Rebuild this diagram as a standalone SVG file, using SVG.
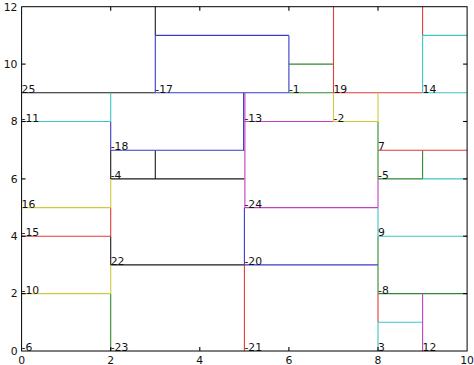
<svg xmlns="http://www.w3.org/2000/svg" width="474" height="365" viewBox="0 0 474 365">
<style>
line{stroke-width:1.1;fill:none}
.k{stroke:#1a1a1a}.b{stroke:#3a3ac8}.g{stroke:#2e8a2e}.r{stroke:#e03a3a}.c{stroke:#3ec4c4}.m{stroke:#c23ec2}.y{stroke:#cccc3a}
text{font-family:"DejaVu Sans",sans-serif;font-size:10.8px;fill:#111}
.tx{text-anchor:middle}.ty{text-anchor:end}
</style>
<rect width="474" height="365" fill="#fff"/>
<g id="cells">
<line class="k" x1="21.6" y1="92.8" x2="155.3" y2="92.8"/>
<line class="k" x1="155.3" y1="35.4" x2="155.3" y2="6.7"/>
<line class="k" x1="110.7" y1="178.9" x2="244.4" y2="178.9"/>
<line class="k" x1="155.3" y1="178.9" x2="155.3" y2="150.2"/>
<line class="k" x1="110.7" y1="264.9" x2="244.4" y2="264.9"/>
<line class="k" x1="110.7" y1="178.9" x2="110.7" y2="150.2"/>
<line class="k" x1="110.7" y1="264.9" x2="110.7" y2="236.2"/>

<line class="b" x1="155.3" y1="35.4" x2="288.9" y2="35.4"/>
<line class="b" x1="155.3" y1="35.4" x2="155.3" y2="92.8"/>
<line class="b" x1="288.9" y1="35.4" x2="288.9" y2="92.8"/>
<line class="b" x1="155.3" y1="92.8" x2="288.9" y2="92.8"/>
<line class="b" x1="110.7" y1="150.2" x2="110.7" y2="121.5"/>
<line class="b" x1="110.7" y1="150.2" x2="244.4" y2="150.2"/>
<line class="b" x1="243.6" y1="150.2" x2="243.6" y2="92.8"/>
<line class="b" x1="244.4" y1="264.9" x2="378" y2="264.9"/>
<line class="b" x1="244.4" y1="264.9" x2="244.4" y2="207.6"/>

<line class="g" x1="288.9" y1="64.1" x2="333.5" y2="64.1"/>
<line class="g" x1="288.9" y1="92.8" x2="333.5" y2="92.8"/>
<line class="g" x1="110.7" y1="351" x2="110.7" y2="293.6"/>
<line class="g" x1="378" y1="178.9" x2="378" y2="121.5"/>
<line class="g" x1="378" y1="178.9" x2="422.6" y2="178.9"/>
<line class="g" x1="422.6" y1="178.9" x2="422.6" y2="150.2"/>
<line class="g" x1="378" y1="293.6" x2="467.1" y2="293.6"/>
<line class="g" x1="378" y1="293.6" x2="378" y2="236.2"/>

<line class="r" x1="333.5" y1="6.7" x2="333.5" y2="92.8"/>
<line class="r" x1="333.5" y1="92.8" x2="422.6" y2="92.8"/>
<line class="r" x1="422.6" y1="6.7" x2="422.6" y2="35.4"/>
<line class="r" x1="378" y1="150.2" x2="467.1" y2="150.2"/>
<line class="r" x1="110.7" y1="236.2" x2="110.7" y2="207.6"/>
<line class="r" x1="21.6" y1="236.2" x2="110.7" y2="236.2"/>
<line class="r" x1="244.4" y1="351" x2="244.4" y2="264.9"/>
<line class="r" x1="378" y1="322.3" x2="378" y2="293.6"/>

<line class="c" x1="21.6" y1="121.5" x2="110.7" y2="121.5"/>
<line class="c" x1="110.7" y1="121.5" x2="110.7" y2="92.8"/>
<line class="c" x1="422.6" y1="35.4" x2="422.6" y2="92.8"/>
<line class="c" x1="422.6" y1="35.4" x2="467.1" y2="35.4"/>
<line class="c" x1="422.6" y1="92.8" x2="467.1" y2="92.8"/>
<line class="c" x1="422.6" y1="178.9" x2="467.1" y2="178.9"/>
<line class="c" x1="378" y1="236.2" x2="467.1" y2="236.2"/>
<line class="c" x1="378" y1="236.2" x2="378" y2="207.6"/>
<line class="c" x1="378" y1="322.3" x2="422.6" y2="322.3"/>
<line class="c" x1="378" y1="351" x2="378" y2="322.3"/>

<line class="m" x1="244.4" y1="121.5" x2="333.5" y2="121.5"/>
<line class="m" x1="244.9" y1="207.6" x2="244.9" y2="92.8"/>
<line class="m" x1="244.4" y1="207.6" x2="378" y2="207.6"/>
<line class="m" x1="378" y1="207.6" x2="378" y2="178.9"/>
<line class="m" x1="422.6" y1="351" x2="422.6" y2="293.6"/>

<line class="y" x1="333.5" y1="121.5" x2="333.5" y2="92.8"/>
<line class="y" x1="333.5" y1="121.5" x2="378" y2="121.5"/>
<line class="y" x1="378" y1="121.5" x2="378" y2="92.8"/>
<line class="y" x1="21.6" y1="207.6" x2="110.7" y2="207.6"/>
<line class="y" x1="110.7" y1="207.6" x2="110.7" y2="178.9"/>
<line class="y" x1="21.6" y1="293.6" x2="110.7" y2="293.6"/>
<line class="y" x1="110.7" y1="293.6" x2="110.7" y2="264.9"/>
</g>
<g id="labels">
<text x="21.6" y="92.8">25</text>
<text x="155.3" y="92.8">-17</text>
<text x="288.9" y="92.8">-1</text>
<text x="333.5" y="92.8">19</text>
<text x="422.6" y="92.8">14</text>
<text x="21.6" y="121.5">-11</text>
<text x="244.4" y="121.5">-13</text>
<text x="333.5" y="121.5">-2</text>
<text x="110.7" y="150.2">-18</text>
<text x="378" y="150.2">7</text>
<text x="110.7" y="178.9">-4</text>
<text x="378" y="178.9">-5</text>
<text x="21.6" y="207.6">16</text>
<text x="244.4" y="207.6">-24</text>
<text x="21.6" y="236.2">-15</text>
<text x="378" y="236.2">9</text>
<text x="110.7" y="264.9">22</text>
<text x="244.4" y="264.9">-20</text>
<text x="21.6" y="293.6">-10</text>
<text x="378" y="293.6">-8</text>
<text x="21.6" y="351">-6</text>
<text x="110.7" y="351">-23</text>
<text x="244.4" y="351">-21</text>
<text x="378" y="351">3</text>
<text x="422.6" y="351">12</text>
</g>
<g id="axes">
<rect x="21.6" y="6.7" width="445.5" height="344.3" fill="none" stroke="#000" stroke-width="1"/>
<g stroke="#000" stroke-width="1">
<line x1="110.7" y1="351" x2="110.7" y2="347"/><line x1="199.8" y1="351" x2="199.8" y2="347"/><line x1="288.9" y1="351" x2="288.9" y2="347"/><line x1="378" y1="351" x2="378" y2="347"/>
<line x1="110.7" y1="6.7" x2="110.7" y2="10.7"/><line x1="199.8" y1="6.7" x2="199.8" y2="10.7"/><line x1="288.9" y1="6.7" x2="288.9" y2="10.7"/><line x1="378" y1="6.7" x2="378" y2="10.7"/>
<line x1="21.6" y1="293.6" x2="25.6" y2="293.6"/><line x1="21.6" y1="236.2" x2="25.6" y2="236.2"/><line x1="21.6" y1="178.9" x2="25.6" y2="178.9"/><line x1="21.6" y1="121.5" x2="25.6" y2="121.5"/><line x1="21.6" y1="64.1" x2="25.6" y2="64.1"/>
<line x1="467.1" y1="293.6" x2="463.1" y2="293.6"/><line x1="467.1" y1="236.2" x2="463.1" y2="236.2"/><line x1="467.1" y1="178.9" x2="463.1" y2="178.9"/><line x1="467.1" y1="121.5" x2="463.1" y2="121.5"/><line x1="467.1" y1="64.1" x2="463.1" y2="64.1"/>
</g>
<text class="tx" x="21.6" y="363.5">0</text>
<text class="tx" x="110.7" y="363.5">2</text>
<text class="tx" x="199.8" y="363.5">4</text>
<text class="tx" x="288.9" y="363.5">6</text>
<text class="tx" x="378" y="363.5">8</text>
<text class="tx" x="467.1" y="363.5">10</text>
<text class="ty" x="17.5" y="354.8">0</text>
<text class="ty" x="17.5" y="297.4">2</text>
<text class="ty" x="17.5" y="240">4</text>
<text class="ty" x="17.5" y="182.7">6</text>
<text class="ty" x="17.5" y="125.3">8</text>
<text class="ty" x="17.5" y="67.9">10</text>
<text class="ty" x="17.5" y="10.5">12</text>
</g>
</svg>
